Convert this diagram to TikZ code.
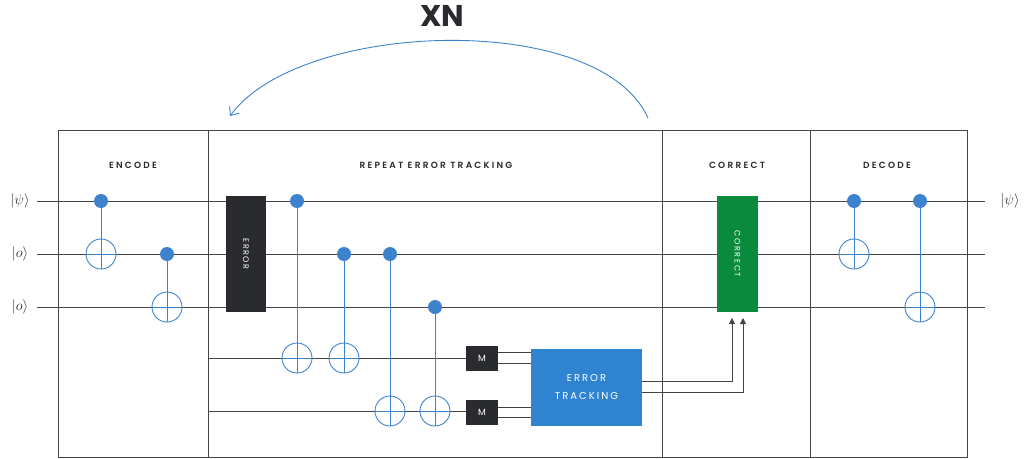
\documentclass[tikz,border=0pt]{standalone}
\usepackage{fontspec}
\setmainfont{Poppins}
\newfontfamily\spaced[LetterSpace=20]{Poppins}
\newfontfamily\spacedb[LetterSpace=25]{Poppins SemiBold}
\usetikzlibrary{arrows.meta}
\definecolor{qblue}{HTML}{3D82CC}
\definecolor{qdark}{HTML}{2A2B2E}
\definecolor{qgreen}{HTML}{0A8A3C}
\definecolor{qbox}{HTML}{2F83D0}
\definecolor{qline}{HTML}{444444}
\begin{document}
\begin{tikzpicture}[x=1pt,y=-1pt,
  wire/.style={draw=qline,line width=0.9pt},
  ctl/.style={circle,fill=qblue,inner sep=0,minimum size=14pt},
  tgt/.style={circle,draw=qblue,line width=0.9pt,inner sep=0,minimum size=30pt},
  cl/.style={draw=qblue,line width=0.9pt},
  head/.style={font=\spacedb\fontsize{9}{9}\selectfont,text=qdark},
  ket/.style={font=\fontsize{15}{15}\selectfont,text=qdark}]
\useasboundingbox (0,0) rectangle (1024,458);
% frame
\draw[wire] (58,130) rectangle (967,457);
\foreach \x in {208,662,810} \draw[wire] (\x,130) -- (\x,457);
% qubit wires
\foreach \y in {201,254,307} \draw[wire] (37,\y) -- (985,\y);
\draw[wire] (208,358) -- (466,358);
\draw[wire] (208,411) -- (466,411);
% kets
\node[ket] (k1) at (20,201) {$|\psi\rangle$};
\node[ket] (k2) at (20,254) {$|o\rangle$};
\node[ket] (k3) at (20,307) {$|o\rangle$};
\node[ket] (k4) at (1010,201) {$|\psi\rangle$};
% headings
\node[head] (h1) at (133,165) {ENCODE};
\node[head] (h2) at (436,165) {REPEAT ERROR TRACKING};
\node[head] (h3) at (737,165) {CORRECT};
\node[head] (h4) at (887,165) {DECODE};
% XN
\node[font=\fontsize{30}{30}\selectfont\bfseries,text=qdark] (xn) at (442,16) {XN};
\coordinate (as) at (648,118);
\coordinate (ae) at (230,116);
\draw[qblue,line width=0.9pt,-{Straight Barb[length=7pt,width=12pt]}] (as) .. controls (600,10) and (300,20) .. (ae);
% boxes
\node[fill=qdark,minimum width=40pt,minimum height=116pt,inner sep=0] (err) at (246,254)
  {\rotatebox{-90}{\spaced\fontsize{8}{8}\selectfont\color{white}ERROR}};
\node[fill=qgreen,minimum width=41pt,minimum height=116pt,inner sep=0] (cor) at (737.5,254)
  {\rotatebox{-90}{\spaced\fontsize{8}{8}\selectfont\color{white}CORRECT}};
\node[fill=qdark,minimum width=32pt,minimum height=25pt,inner sep=0,text=white,font=\fontsize{9}{9}\selectfont] (m1) at (482,358) {M};
\node[fill=qdark,minimum width=32pt,minimum height=25pt,inner sep=0,text=white,font=\fontsize{9}{9}\selectfont] (m2) at (482,412) {M};
\node[fill=qbox,minimum width=111pt,minimum height=77pt,inner sep=0,text=white,align=center,font=\spaced\fontsize{10}{18}\selectfont] (et) at (586.5,387) {ERROR\\TRACKING};
% classical wires
\draw[wire] ([yshift=-5pt]m1.east) -- ([yshift=-5pt]m1.east -| et.west);
\draw[wire] ([yshift=6pt]m1.east) -- ([yshift=6pt]m1.east -| et.west);
\draw[wire] ([yshift=-5pt]m2.east) -- ([yshift=-5pt]m2.east -| et.west);
\draw[wire] ([yshift=5pt]m2.east) -- ([yshift=5pt]m2.east -| et.west);
\draw[wire,-{Triangle[length=6pt,width=6pt]}] (et.east |- 0,381) -- (732,381) -- (732,318);
\draw[wire,-{Triangle[length=6pt,width=6pt]}] (et.east |- 0,392) -- (743,392) -- (743,318);
% gates
\foreach \n/\cx/\cy/\tx/\ty in {a/101/201/101/254, b/167/254/167/307, c/297/201/297/358, d/344/254/344/358, e/390/254/390/411, f/435/307/435/411, g/854/201/854/254, h/920/201/920/307}{
  \node[tgt] (t\n) at (\tx,\ty) {};
  \draw[cl] (t\n.west) -- (t\n.east);
  \draw[cl] (\cx,\cy) -- (t\n.south);
  \node[ctl] (c\n) at (\cx,\cy) {};
}
\end{tikzpicture}
\end{document}
